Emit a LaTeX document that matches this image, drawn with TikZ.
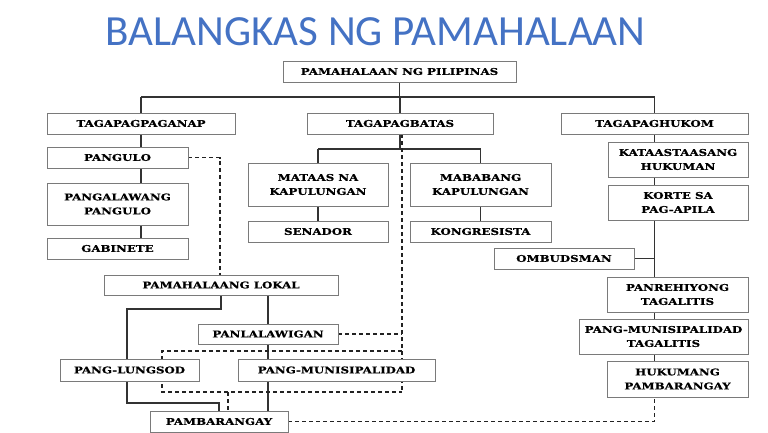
\documentclass[tikz,border=0pt]{standalone}
\usepackage{fontspec}
\setmainfont{DejaVu Serif}
\newfontfamily\boxfont[FakeStretch=1.27, BoldFeatures={FakeBold=0.6}]{DejaVu Serif}
\newfontfamily\titlefont{Carlito}
\usetikzlibrary{calc}
\definecolor{titleblue}{HTML}{4472C4}
\definecolor{boxline}{HTML}{7A7A7A}
\definecolor{conn}{HTML}{333333}
\definecolor{dconn}{HTML}{222222}
\pgfdeclarelayer{bg}
\pgfsetlayers{bg,main}
\tikzset{
  box/.style={draw=boxline, line width=0.9pt, fill=white, inner sep=0pt,
    align=center, font=\boxfont\bfseries\fontsize{9.3}{14}\selectfont},
  link/.style={draw=conn, line width=1.2pt},
  thicklink/.style={draw=conn, line width=1.6pt},
  dlink/.style={draw=dconn, line width=1.15pt, dash pattern=on 4pt off 3pt},
}
\begin{document}
\begin{tikzpicture}[x=1pt,y=-1pt]
\useasboundingbox (0,0) rectangle (768,433);
\node[font=\titlefont\fontsize{43}{48}\selectfont, text=titleblue, anchor=base, inner sep=0pt] (title) at (375.5,46) {BALANGKAS NG PAMAHALAAN};

\node[box, minimum width=233pt, minimum height=21pt] (top) at (399.5,71.5) {PAMAHALAAN NG PILIPINAS};
\node[box, minimum width=188pt, minimum height=21pt] (exec) at (141,123.5) {TAGAPAGPAGANAP};
\node[box, minimum width=186pt, minimum height=21pt] (leg) at (400,123.5) {TAGAPAGBATAS};
\node[box, minimum width=187pt, minimum height=21pt] (jud) at (654.5,123.5) {TAGAPAGHUKOM};

\node[box, minimum width=141pt, minimum height=21pt] (pres) at (117.5,157.5) {PANGULO};
\node[box, minimum width=141pt, minimum height=42pt] (vp) at (117.5,204) {PANGALAWANG\\PANGULO};
\node[box, minimum width=141pt, minimum height=21pt] (cab) at (117.5,248.5) {GABINETE};

\node[box, minimum width=140pt, minimum height=43pt] (upper) at (318,184.5) {MATAAS NA\\KAPULUNGAN};
\node[box, minimum width=140pt, minimum height=21pt] (sen) at (318,231.5) {SENADOR};
\node[box, minimum width=141pt, minimum height=43pt] (lower) at (480.5,184.5) {MABABANG\\KAPULUNGAN};
\node[box, minimum width=141pt, minimum height=21pt] (kong) at (480.5,231.5) {KONGRESISTA};

\node[box, minimum width=140pt, minimum height=35pt] (sc) at (678,159.5) {KATAASTAASANG\\HUKUMAN};
\node[box, minimum width=140pt, minimum height=35pt] (ca) at (678,202.5) {KORTE SA\\PAG-APILA};
\node[box, minimum width=140pt, minimum height=21pt] (omb) at (564,258.5) {OMBUDSMAN};
\node[box, minimum width=141pt, minimum height=35pt] (rtc) at (677.5,294.5) {PANREHIYONG\\TAGALITIS};
\node[box, minimum width=169pt, minimum height=35pt] (mtc) at (663.5,336.5) {PANG-MUNISIPALIDAD\\TAGALITIS};
\node[box, minimum width=141pt, minimum height=36pt] (bc) at (677.5,379) {HUKUMANG\\PAMBARANGAY};

\node[box, minimum width=234pt, minimum height=20pt] (local) at (221,285) {PAMAHALAANG LOKAL};
\node[box, minimum width=140pt, minimum height=20pt] (prov) at (268,334) {PANLALAWIGAN};
\node[box, minimum width=139pt, minimum height=22pt] (city) at (129.5,370) {PANG-LUNGSOD};
\node[box, minimum width=197pt, minimum height=22pt] (mun) at (336.5,370) {PANG-MUNISIPALIDAD};
\node[box, minimum width=138pt, minimum height=21pt] (brgy) at (219,421.5) {PAMBARANGAY};

\coordinate (bus) at (0,97);
\coordinate (lbus) at (0,149);
\coordinate (dx) at (402,0);
\coordinate (rtop) at (0,351);
\coordinate (rbot) at (0,392);
\coordinate (rleft) at (162,0);
\coordinate (drop) at (228,0);
\coordinate (pdash) at (220,0);
\coordinate (lbend) at (0,309);
\coordinate (lcol) at (127,0);
\coordinate (lbot) at (0,403);

\begin{pgfonlayer}{bg}
% main tree
\draw[link] (top.south) -- (top.south |- bus);
\draw[link] (exec.north |- bus) -- (jud.north |- bus);
\draw[link] (exec.north) -- (exec.north |- bus);
\draw[link] (leg.north) -- (leg.north |- bus);
\draw[link] (jud.north) -- (jud.north |- bus);
% executive
\draw[link] (exec.south) -- (exec.south |- cab.north);
% legislative
\draw[link] (leg.south) -- (leg.south |- lbus);
\draw[link] (upper.north |- lbus) -- (lower.north |- lbus);
\draw[link] (upper.north) -- (upper.north |- lbus);
\draw[link] (lower.north) -- (lower.north |- lbus);
\draw[link] (upper.south) -- (sen.north);
\draw[link] (lower.south) -- (kong.north);
% judiciary
\draw[link] (jud.south) -- (jud.south |- bc.north);
\draw[link] (omb.east) -- (omb.east -| jud.south);
% local government
\draw[thicklink] (local.south) -- (local.south |- lbend) -- (lcol |- lbend) -- (lcol |- lbot) -- (brgy.north |- lbot) -- (brgy.north);
\draw[link] (prov.north |- local.south) -- (prov.north |- brgy.north);
% dashed relations
\draw[dlink] (pres.east) -| (pdash |- local.north);
\draw[dlink] (dx |- leg.south) -- (dx |- rbot);
\draw[dlink] (prov.east) -- (prov.east -| dx);
\draw[dlink] (dx |- rtop) -- (rleft |- rtop) -- (rleft |- rbot) -- (dx |- rbot);
\draw[dlink] (drop |- rbot) -- (drop |- brgy.north);
\draw[dlink] (brgy.east) -| (jud.south |- bc.south);
\end{pgfonlayer}
\end{tikzpicture}
\end{document}
